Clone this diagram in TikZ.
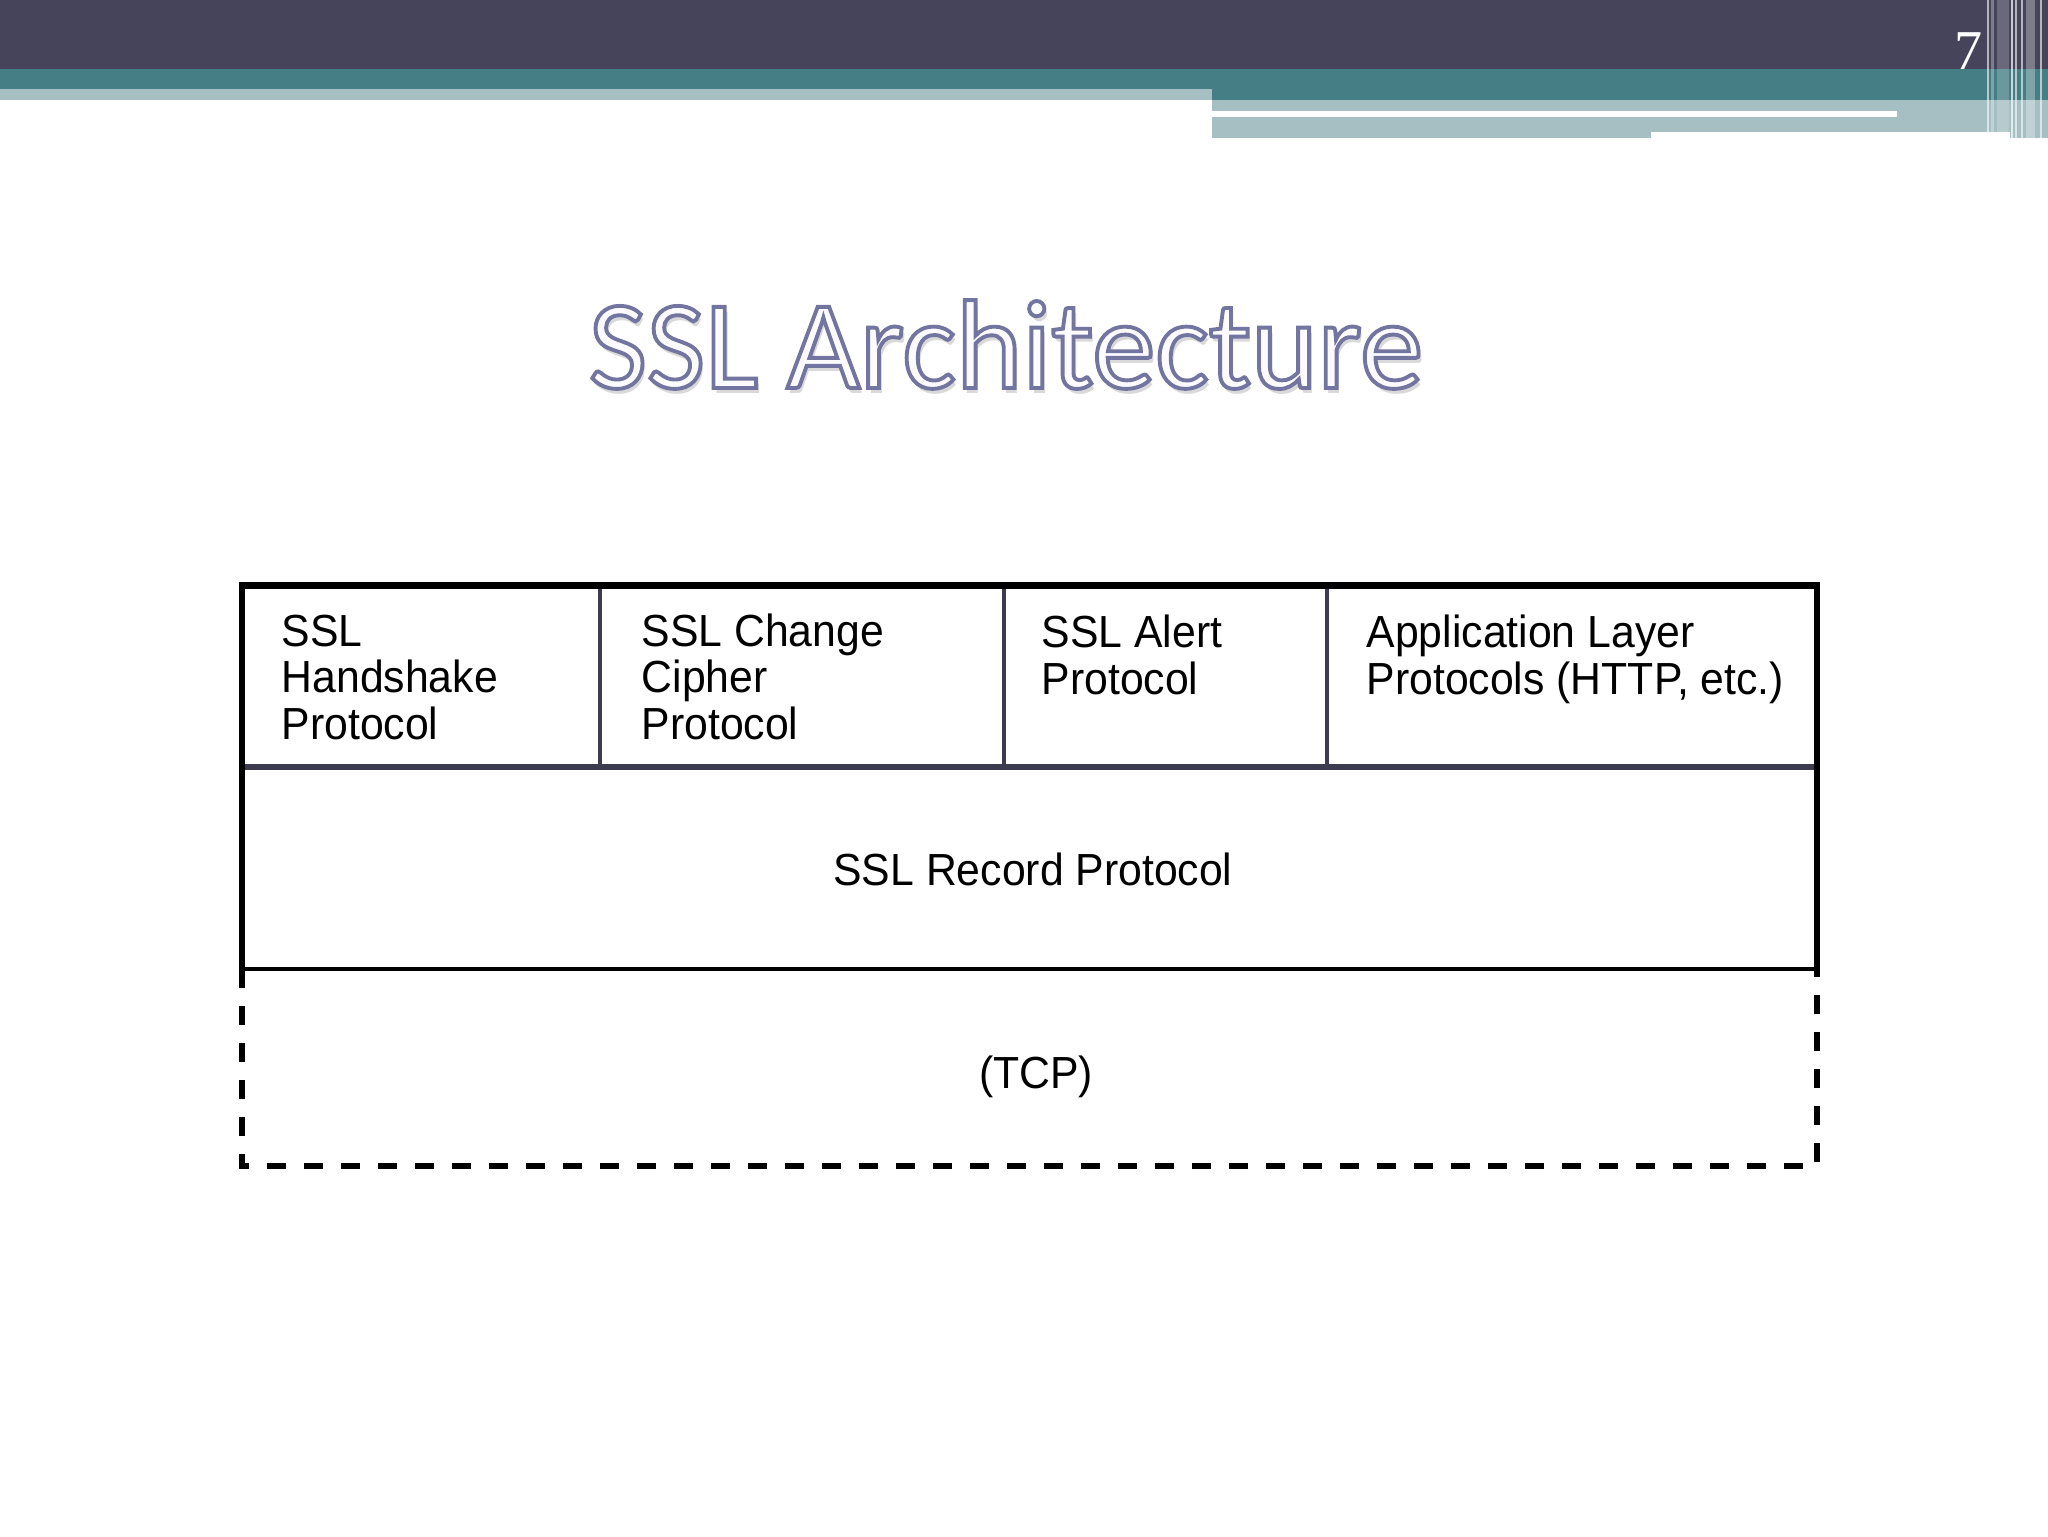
\documentclass[tikz,border=0pt]{standalone}
\usepackage{fontspec}
\setmainfont{Liberation Sans}[FakeStretch=0.95]
\newfontfamily\titlefont{Carlito}
\newfontfamily\pagefont{Liberation Serif}
\definecolor{bardark}{HTML}{45445A}
\definecolor{barteal}{HTML}{457F85}
\definecolor{barlight}{HTML}{A5BFC3}
\definecolor{titlefill}{HTML}{FBFBFE}
\definecolor{rulegray}{HTML}{3C3C4E}
\newcommand{\outlinetext}[1]{\textcolor{titlefill}{\special{pdf:literal direct 2 Tr 1.1 w 0.45 0.46 0.63 RG}#1\special{pdf:literal direct 0 Tr}}}
\tikzset{
  layertext/.style={font=\fontsize{12.8}{13.1}\selectfont, align=left, inner sep=0pt, anchor=base west},
  outerline/.style={line width=0.55mm, black},
  divider/.style={line width=0.45mm, rulegray},
  tcpline/.style={line width=0.55mm, black, dash pattern=on 1.9mm off 1.8mm}
}
\begin{document}
\begin{tikzpicture}[x=0.1mm, y=-0.1mm]
    \useasboundingbox[fill=white] (0,0) rectangle (2048,1536);
    \fill[bardark] (0,0) rectangle (2048,69);
    \fill[barteal] (0,69) rectangle (2048,100);
    \fill[barlight] (0,89) rectangle (1212,100);
    \fill[barlight] (1212,100) rectangle (2048,138);
    \fill[white] (1212,111) rectangle (1897,117);
    \fill[white] (1651,132) rectangle (2010,138);
    \foreach \sx/\sw/\so in {1987/1.5/0.6, 1991/3/0.3, 1997/12/0.2, 2011/1.5/0.7, 2015/1.5/0.6, 2021/1.5/0.6, 2026/9/0.3, 2040/2/0.6}
        \fill[white, opacity=\so] (\sx,0) rectangle ++(\sw,138);
    \node[font=\pagefont\fontsize{16}{18}\selectfont, text=white, anchor=base] (pagenum) at (1969,69) {7};

    \node[font=\titlefont\fontsize{36}{40}\selectfont, text=black!15, anchor=base] (titleshadow) at (1009,393) {SSL Architecture};
    \node[font=\titlefont\fontsize{36}{40}\selectfont, anchor=base] (title) at (1006,388) {\outlinetext{SSL Architecture}};

    \draw[divider] (600,585) -- (600,767);
    \draw[divider] (1004,585) -- (1004,767);
    \draw[divider] (1327,585) -- (1327,767);
    \draw[line width=0.6mm, rulegray] (242,767) -- (1817,767);
    \draw[line width=0.4mm] (242,969) -- (1817,969);
    \draw[outerline] (242,969) -- (242,585) -- (1817,585) -- (1817,969);
    \draw[line width=0.7mm] (242,585) -- (1817,585);
    \draw[tcpline] (242,969) -- (242,1166) -- (1817,1166) -- (1817,969);

    \node[layertext] (handshake) at (281,739) {SSL\\Handshake\\Protocol};
    \node[layertext] (changecipher) at (641,739) {SSL Change\\Cipher\\Protocol};
    \node[layertext] (alert) at (1041,694) {SSL Alert\\Protocol};
    \node[layertext] (applayer) at (1366,694) {Application Layer\\Protocols (HTTP, etc.)};
    \node[layertext, anchor=base] (record) at (1033,885) {SSL Record Protocol};
    \node[layertext, anchor=base] (tcp) at (1036,1088) {(TCP)};
\end{tikzpicture}
\end{document}
